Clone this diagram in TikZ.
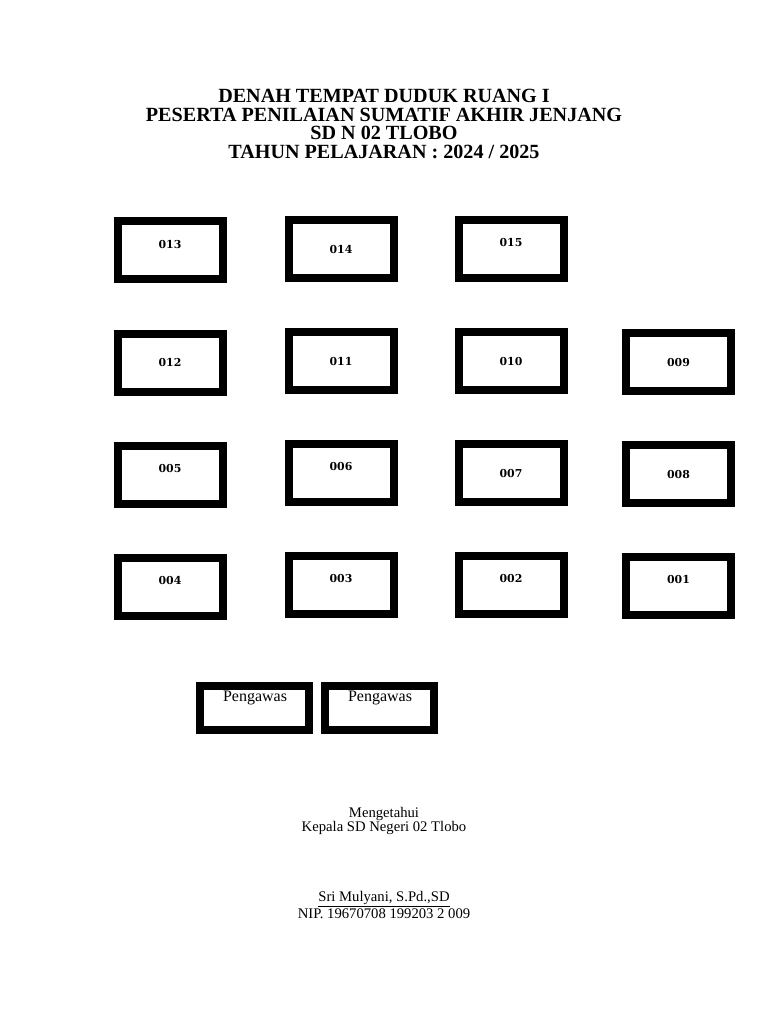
\documentclass[tikz,border=0pt]{standalone}
\usepackage{fontspec}
\setmainfont{Liberation Serif}
\newfontfamily\numfont{DejaVu Serif}
\begin{document}
\begin{tikzpicture}[x=0.75pt, y=-0.75pt,
  seat/.style={draw, line width=6pt, minimum width=78.75pt, minimum height=43.5pt, inner sep=0pt},
  guard/.style={draw, line width=6pt, minimum width=81.75pt, minimum height=33pt, inner sep=0pt},
  num/.style={font=\numfont\bfseries\fontsize{8.2}{9}\selectfont},
  head/.style={inner sep=0pt, align=center, font=\bfseries\fontsize{15.1}{14}\selectfont},
  foot/.style={inner sep=0pt, align=center, font=\fontsize{11}{10.6}\selectfont}]
  \useasboundingbox (0,0) rectangle (768,1024);
  \node[head] (title) at (384,124) {DENAH TEMPAT DUDUK RUANG I\\
    PESERTA PENILAIAN SUMATIF AKHIR JENJANG\\SD N 02 TLOBO\\
    TAHUN PELAJARAN : 2024 / 2025};
  % seats: name/x/y/label y
  \foreach \n/\x/\y/\ly in {013/170/250/245, 014/341/249/250, 015/511/248.5/243,
      012/170/363/363, 011/341/361/362, 010/511/361/362, 009/678.5/362/363,
      005/170/475/469, 006/341/473/467, 007/511/473/474, 008/678.5/474/475,
      004/170/587/581, 003/341/585/579, 002/511/585/579, 001/678.5/586/580}
    {
      \node[seat] (s\n) at (\x,\y) {};
      \node[num] (l\n) at (\x,\ly) {\n};
    }
  \node[guard] (g1) at (254.5,708) {};
  \node[guard] (g2) at (379,708) {};
  \node[inner sep=0pt, font=\fontsize{12}{14}\selectfont] (p1) at (255,698) {Pengawas};
  \node[inner sep=0pt, font=\fontsize{12}{14}\selectfont] (p2) at (380,698) {Pengawas};
  \node[foot] (know) at (384,821) {Mengetahui\\Kepala SD Negeri 02 Tlobo};
  \node[foot] (sign) at (384,905) {\underline{Sri Mulyani, S.Pd.,SD}\\NIP. 19670708 199203 2 009};
\end{tikzpicture}
\end{document}
